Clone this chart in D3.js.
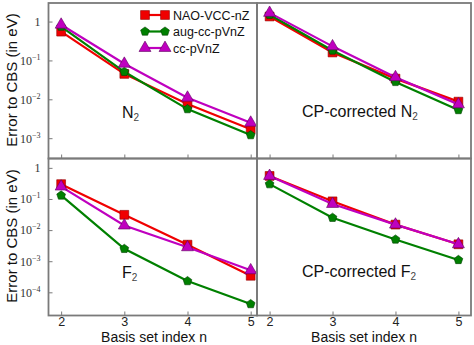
<!DOCTYPE html>
<html>
<head>
<meta charset="utf-8">
<script src="https://cdn.jsdelivr.net/npm/d3@7"></script>
<style>
  html, body { margin: 0; padding: 0; background: #fff; }
  svg { display: block; }
</style>
</head>
<body>
<svg id="chart" width="474" height="345"></svg>
<script>
// basis set index on the x axis
const basisIndex = [2, 3, 4, 5];
const seriesNames = ['NAO-VCC-nZ', 'aug-cc-pVnZ', 'cc-pVnZ'];

// error to CBS (eV), N2
const n2Nao = [0.55, 0.045, 0.0076, 0.0017];
const n2Aug = [0.74, 0.051, 0.0056, 0.0012];
const n2Cc = [0.83, 0.082, 0.011, 0.0025];

// CP-corrected N2
const cpN2Nao = [1.35, 0.16, 0.034, 0.0087];
const cpN2Aug = [1.5, 0.18, 0.028, 0.0053];
const cpN2Cc = [1.67, 0.23, 0.037, 0.0074];

// F2
const f2Nao = [0.30, 0.031, 0.0034, 0.00034];
const f2Aug = [0.13, 0.0025, 0.00023, 0.000042];
const f2Cc = [0.25, 0.014, 0.0028, 0.00051];

// CP-corrected F2
const cpF2Nao = [0.55, 0.084, 0.015, 0.0035];
const cpF2Aug = [0.30, 0.025, 0.005, 0.0011];
const cpF2Cc = [0.55, 0.069, 0.015, 0.0035];

const topTicks = [1, 1e-1, 1e-2, 1e-3];
const bottomTicks = [1, 1e-1, 1e-2, 1e-3, 1e-4];

const colors = ['#f00000', '#008000', '#bf00bf'];
const edges = ['#900000', '#004000', '#600060'];

const svg = d3.select('#chart');
const axisColor = '#7a7a7a';

// pentagon marker for aug-cc-pVnZ
const symbolPentagon = {
  draw(context, size) {
    const r = Math.sqrt(size / 2.38);
    for (let i = 0; i < 5; i++) {
      const a = -Math.PI / 2 + i * 2 * Math.PI / 5;
      const x = r * Math.cos(a), y = r * Math.sin(a);
      if (i === 0) context.moveTo(x, y); else context.lineTo(x, y);
    }
    context.closePath();
  }
};
const markerTypes = [d3.symbolSquare, symbolPentagon, d3.symbolTriangle];
const markerSizes = [78, 50, 62];

const xLeft = d3.scaleLinear().domain([1.8, 5.1]).range([48.5, 257]);
const xRight = d3.scaleLinear().domain([1.8, 5.2]).range([257, 471]);
const yTop = d3.scaleLog().domain([3e-4, 3]).range([158.5, 3]);
const yBottom = d3.scaleLog().domain([1.8e-5, 2]).range([315.5, 158.5]);

const panels = [
  { x: xLeft, y: yTop, series: [n2Nao, n2Aug, n2Cc], label: ['N', '2'], lx: 122, ly: 118, yTicks: topTicks },
  { x: xRight, y: yTop, series: [cpN2Nao, cpN2Aug, cpN2Cc], label: ['CP-corrected N', '2'], lx: 302, ly: 117 },
  { x: xLeft, y: yBottom, series: [f2Nao, f2Aug, f2Cc], label: ['F', '2'], lx: 122, ly: 278, yTicks: bottomTicks, xLabels: true },
  { x: xRight, y: yBottom, series: [cpF2Nao, cpF2Aug, cpF2Cc], label: ['CP-corrected F', '2'], lx: 302, ly: 277, xLabels: true }
];

const supLabel = (sel, v) => {
  const e = Math.round(Math.log10(v));
  sel.text(null);
  if (e === 0) { sel.append('tspan').text('1'); return; }
  sel.append('tspan').text('10');
  sel.append('tspan').attr('dy', -5).attr('font-size', 8).text('\u2212' + Math.abs(e));
};

panels.forEach(p => {
  const [x0, x1] = p.x.range();
  const [y0, y1] = p.y.range();
  const g = svg.append('g');

  // x ticks (inward) along the bottom of the panel
  const xAxis = g.append('g')
    .attr('transform', `translate(0,${y0})`)
    .call(d3.axisBottom(p.x).tickValues(basisIndex).tickSizeInner(-4).tickSizeOuter(0).tickPadding(2)
      .tickFormat(p.xLabels ? d3.format('d') : () => ''));
  xAxis.select('.domain').remove();
  xAxis.selectAll('line').attr('stroke', axisColor);
  xAxis.selectAll('text')
    .attr('font-family', 'Liberation Sans, Arial, sans-serif')
    .attr('font-size', 12.5).attr('fill', '#222');

  if (p.yTicks) {
    const yAxis = g.append('g')
      .attr('transform', `translate(${x0},0)`)
      .call(d3.axisLeft(p.y).tickValues(p.yTicks).tickSizeInner(-4).tickSizeOuter(0).tickPadding(8));
    yAxis.select('.domain').remove();
    yAxis.selectAll('line').attr('stroke', axisColor);
    yAxis.selectAll('text')
      .attr('font-family', 'Liberation Serif, Times New Roman, serif')
      .attr('font-size', 12).attr('fill', '#333')
      .each(function(d) { supLabel(d3.select(this), d); });
  }

  // the series, drawn red, green then purple on top
  p.series.forEach((vals, i) => {
    const pts = basisIndex.map((n, k) => [p.x(n), p.y(vals[k])]);
    g.append('path')
      .attr('d', d3.line()(pts))
      .attr('fill', 'none')
      .attr('stroke', colors[i])
      .attr('stroke-width', 2.2);
    g.selectAll(null).data(pts).enter().append('path')
      .attr('transform', d => `translate(${d[0]},${d[1]})`)
      .attr('d', d3.symbol(markerTypes[i], markerSizes[i])())
      .attr('fill', colors[i])
      .attr('stroke', edges[i])
      .attr('stroke-width', 0.6);
  });

  const t = g.append('text')
    .attr('x', p.lx).attr('y', p.ly)
    .attr('font-family', 'Liberation Sans, Arial, sans-serif')
    .attr('font-size', 16).attr('fill', '#111');
  t.append('tspan').text(p.label[0]);
  t.append('tspan').attr('dy', 3).attr('font-size', 10).attr('fill', '#444').text(p.label[1]);

  g.append('rect')
    .attr('x', x0).attr('y', y1)
    .attr('width', x1 - x0).attr('height', y0 - y1)
    .attr('fill', 'none').attr('stroke', axisColor).attr('stroke-width', 1.8);
});

// legend in the N2 panel
const legend = svg.append('g').attr('transform', 'translate(145,15)');
seriesNames.forEach((name, i) => {
  const row = legend.append('g').attr('transform', `translate(0,${i * 16.5})`);
  row.append('line').attr('x1', 0).attr('x2', 20)
    .attr('stroke', colors[i]).attr('stroke-width', 2.2);
  [0, 20].forEach(cx => row.append('path')
    .attr('transform', `translate(${cx},0)`)
    .attr('d', d3.symbol(markerTypes[i], markerSizes[i])())
    .attr('fill', colors[i]).attr('stroke', edges[i]).attr('stroke-width', 0.6));
  row.append('text').attr('x', 28).attr('y', 4.5)
    .attr('font-family', 'Liberation Sans, Arial, sans-serif')
    .attr('font-size', 12.5).attr('fill', '#111').text(name);
});

// axis titles
[80, 236].forEach(cy => {
  svg.append('text')
    .attr('transform', `translate(17,${cy}) rotate(-90)`)
    .attr('text-anchor', 'middle')
    .attr('font-family', 'Liberation Sans, Arial, sans-serif')
    .attr('font-size', 15).attr('fill', '#111')
    .text('Error to CBS (in eV)');
});
[154, 364].forEach(cx => {
  svg.append('text')
    .attr('x', cx).attr('y', 342)
    .attr('text-anchor', 'middle')
    .attr('font-family', 'Liberation Sans, Arial, sans-serif')
    .attr('font-size', 14).attr('fill', '#111')
    .text('Basis set index n');
});
</script>
</body>
</html>
